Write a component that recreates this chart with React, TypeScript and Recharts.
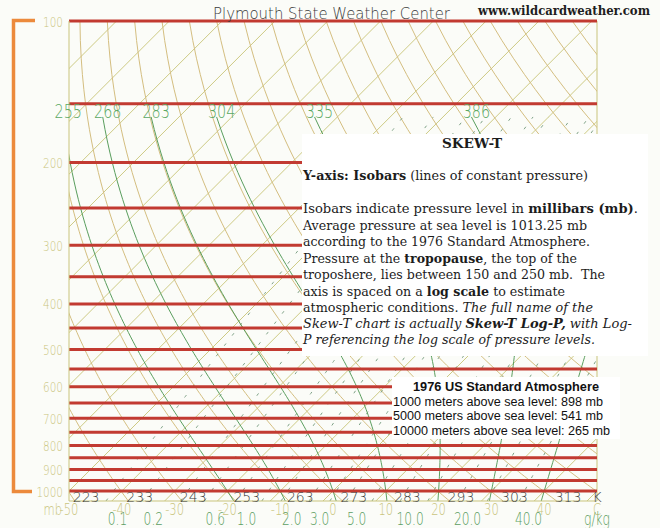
import React from 'react';
import { ComposedChart, Line, XAxis, YAxis, ReferenceLine, ReferenceDot } from 'recharts';

// pressure (mb)
const pressureTicks = [100, 200, 300, 400, 500, 600, 700, 800, 900, 1000];
const isobars = [100, 150, 200, 250, 300, 350, 400, 450, 500, 550, 600, 650, 700, 750, 800, 850, 900, 950, 1000];
// temperature axis at 1000 mb (C)
const tempTicks = [-50, -40, -30, -20, -10, 0, 10, 20, 30, 40, 50];
const tempLabels = ['-50', '-40', '-30', '-20', '-10', '0', '10', '20', '30', '40', 'C'];
const isotherms = [-130, -120, -110, -100, -90, -80, -70, -60, -50, -40, -30, -20, -10, 0, 10, 20, 30, 40, 50];
// dry adiabats (potential temperature, K)
const dryThetas = [223, 233, 243, 253, 263, 273, 283, 293, 303, 313, 323, 333, 343, 353, 363, 373, 383, 393, 403, 413, 423, 433, 443];
const thetaLabels = ['223', '233', '243', '253', '263', '273', '283', '293', '303', '313'];
// moist adiabats (wet-bulb potential temp at 1000 mb, C) and their theta-e labels
const moistThetaW = [-20, -10, 0, 10, 20, 30, 40];
const moistLabels = ['255', '268', '283', '304', '335', '386'];
// mixing ratio lines (g/kg)
const mixingRatios = [0.1, 0.2, 0.4, 0.6, 1, 1.5, 2, 3, 4, 5, 7, 10, 14, 20, 28, 40];
const mixingLabels = [0.1, 0.2, 0.6, 1, 2, 3, 5, 10, 20, 40];

const P_BOTTOM = 1050;
const P_TOP = 100;
const SKEW = 89; // C per decade of pressure (45 deg)

const KHAKI = '#c9c47c';
const ISO = '#cdca84';
const DRY = '#d4be80';
const MOIST = '#5a9e5e';
const MIX = '#7fa287';
const RED = '#c23a31';
const ORANGE = '#ec8a3c';

const skewX = (t: number, p: number) => t + SKEW * Math.log10(1000 / p);

const sampleLevels: number[] = [];
for (let p = P_BOTTOM; p >= P_TOP; p -= 10) sampleLevels.push(p);

const es = (tc: number) => 6.112 * Math.exp((17.67 * tc) / (tc + 243.5));
const rsat = (tc: number, p: number) => (0.622 * es(tc)) / (p - es(tc));
const lapse = (tc: number, p: number) => {
  const T = tc + 273.15;
  const r = rsat(tc, p);
  const L = 2.501e6;
  return (287.04 * T + L * r) / (p * (1005.7 + (L * L * r * 0.622) / (287.04 * T * T)));
};
const rk4 = (t: number, p: number, h: number) => {
  const k1 = lapse(t, p);
  const k2 = lapse(t + (h / 2) * k1, p + h / 2);
  const k3 = lapse(t + (h / 2) * k2, p + h / 2);
  const k4 = lapse(t + h * k3, p + h);
  return t + (h / 6) * (k1 + 2 * k2 + 2 * k3 + k4);
};
const dewpoint = (w: number, p: number) => {
  const e = ((w / 1000) * p) / (0.622 + w / 1000);
  const l = Math.log(e / 6.112);
  return (243.5 * l) / (17.67 - l);
};

const isothermSeries = isotherms.map((t) => [
  { x: skewX(t, P_BOTTOM), p: P_BOTTOM },
  { x: skewX(t, P_TOP), p: P_TOP },
]);

const drySeries = dryThetas.map((th) =>
  sampleLevels.map((p) => ({ x: skewX(th * Math.pow(p / 1000, 0.2857) - 273.15, p), p }))
);

const MOIST_TOP = 160;
const moistSeries = moistThetaW.map((tw) => {
  let t = tw;
  let p = 1000;
  while (p < P_BOTTOM) { t = rk4(t, p, 2); p += 2; }
  const pts: { x: number; p: number }[] = [];
  while (p >= MOIST_TOP) {
    if (p % 10 === 0) pts.push({ x: skewX(t, p), p });
    t = rk4(t, p, -2);
    p -= 2;
  }
  return pts;
});

const mixSeries = mixingRatios.map((w) =>
  sampleLevels.filter((p) => p >= MOIST_TOP).map((p) => ({ x: skewX(dewpoint(w, p), p), p }))
);
const mixTicks = [...mixingLabels.map((w) => dewpoint(w, 1000)), 50];

const NText = ({ x, y, anchor = 'middle', size, fill, sx = 0.72, weight = 300, children }: any) => (
  <text
    transform={`translate(${x},${y}) scale(${sx},1)`}
    textAnchor={anchor}
    fontSize={size}
    fill={fill}
    fontFamily="DejaVu Sans, sans-serif"
    fontWeight={weight}
  >
    {children}
  </text>
);

const TempTick = (props: any) => {
  const { x, y, index } = props;
  return (
    <g>
      {index === tempTicks.length - 1 && (
        <text x={x} y={y + 1} textAnchor="middle" fontSize={14} fill="#3c3c3c" fontFamily="DejaVu Sans, sans-serif" fontWeight={200}>
          K
        </text>
      )}
      {index === 0 && (
        <NText x={x - 7} y={y + 14} anchor="end" size={16} fill={KHAKI}>mb</NText>
      )}
      <NText x={x} y={y + 14} size={16} fill={KHAKI}>{tempLabels[index]}</NText>
    </g>
  );
};

const MixTick = (props: any) => {
  const { x, y, index } = props;
  const last = index === mixTicks.length - 1;
  return (
    <NText x={last ? x : x + 4} y={y + 9.5} size={17} fill="#5c9e62">
      {last ? 'g/kg' : mixingLabels[index].toFixed(1)}
    </NText>
  );
};

const PressTick = (props: any) => {
  const { x, y, payload } = props;
  return <NText x={x - 6} y={y + 5.5} anchor="end" size={14.5} fill={KHAKI}>{payload.value}</NText>;
};

const textBox1 = { fontFamily: 'DejaVu Serif, serif', fontSize: 13, fill: '#1c1c1c' };
const textBox2 = { fontFamily: 'Liberation Sans, Arial, sans-serif', fontSize: 12.5, fill: '#111' };

export default function App() {
  return (
    <div style={{ position: 'absolute', left: 0, top: 0, width: 660, height: 528, background: '#fbfcf8' }}>
      <ComposedChart width={660} height={528} margin={{ top: 21, right: 63, bottom: 0, left: 0 }}>
        <XAxis
          xAxisId="c"
          type="number"
          dataKey="x"
          domain={[-50, 50]}
          allowDataOverflow
          ticks={tempTicks}
          interval={0}
          height={14}
          tickSize={0}
          tickMargin={0}
          tickLine={false}
          axisLine={{ stroke: KHAKI }}
          tick={TempTick}
        />
        <XAxis
          xAxisId="w"
          type="number"
          dataKey="x"
          domain={[-50, 50]}
          allowDataOverflow
          ticks={mixTicks}
          interval={0}
          height={13}
          tickSize={0}
          tickMargin={0}
          tickLine={false}
          axisLine={false}
          tick={MixTick}
        />
        <YAxis
          type="number"
          scale="log"
          domain={[P_TOP, P_BOTTOM]}
          reversed
          allowDataOverflow
          ticks={pressureTicks}
          interval={0}
          width={69}
          tickSize={0}
          tickMargin={0}
          tickLine={false}
          axisLine={{ stroke: KHAKI }}
          tick={PressTick}
        />
        <ReferenceLine xAxisId="c" x={50} stroke={KHAKI} strokeWidth={1} />
        {isothermSeries.map((d, i) => (
          <Line key={`t${i}`} xAxisId="c" data={d} dataKey="p" type="linear" stroke={ISO} strokeWidth={1} dot={false} activeDot={false} isAnimationActive={false} />
        ))}
        {drySeries.map((d, i) => (
          <Line key={`d${i}`} xAxisId="c" data={d} dataKey="p" type="linear" stroke={DRY} strokeWidth={1} dot={false} activeDot={false} isAnimationActive={false} />
        ))}
        {mixSeries.map((d, i) => (
          <Line key={`w${i}`} xAxisId="c" data={d} dataKey="p" type="linear" stroke={MIX} strokeWidth={1} strokeDasharray="3 10" dot={false} activeDot={false} isAnimationActive={false} />
        ))}
        {moistSeries.map((d, i) => (
          <Line key={`m${i}`} xAxisId="c" data={d} dataKey="p" type="linear" stroke={MOIST} strokeWidth={1} dot={false} activeDot={false} isAnimationActive={false} />
        ))}
        {isobars.map((p) => (
          <ReferenceLine key={`p${p}`} xAxisId="c" y={p} stroke={RED} strokeWidth={3} />
        ))}
        {thetaLabels.map((lab, i) => (
          <ReferenceDot
            key={`k${lab}`}
            xAxisId="c"
            x={drySeries[i][0].x}
            y={P_BOTTOM}
            r={0}
            ifOverflow="visible"
            shape={(s: any) => (
              <text x={s.cx - 2} y={s.cy + 1} fontSize={14} fill="#3c3c3c" fontFamily="DejaVu Sans, sans-serif" fontWeight={200}>
                {lab}
              </text>
            )}
          />
        ))}
        {moistLabels.map((lab, i) => {
          const top = moistSeries[i][moistSeries[i].length - 1];
          return (
            <ReferenceDot
              key={`e${lab}`}
              xAxisId="c"
              x={top.x}
              y={top.p}
              r={0}
              ifOverflow="visible"
              shape={(s: any) => <NText x={s.cx + 5} y={s.cy + 1} size={20} fill="#5aa862">{lab}</NText>}
            />
          );
        })}
      </ComposedChart>

      <svg width={660} height={528} style={{ position: 'absolute', left: 0, top: 0, pointerEvents: 'none' }}>
        <path d="M35 20.5 H13.5 V491.5 H32" fill="none" stroke={ORANGE} strokeWidth={3.5} />
        <text x={213} y={19} fontSize={16.5} textLength={237} lengthAdjust="spacingAndGlyphs" fill="#3a3a3a" fontFamily="DejaVu Sans, sans-serif" fontWeight={300}>
          Plymouth State Weather Center
        </text>
        <text x={478} y={15} fontSize={13} textLength={172} lengthAdjust="spacingAndGlyphs" fill="#1e1e1e" fontFamily="DejaVu Serif, serif" fontWeight="bold">
          www.wildcardweather.com
        </text>

        <rect x={302} y={134} width={346} height={222} fill="#ffffff" />
        <g {...textBox1}>
          <text x={442} y={148} fontWeight="bold" textLength={60} lengthAdjust="spacingAndGlyphs">SKEW-T</text>
          <text x={303} y={180} textLength={285} lengthAdjust="spacingAndGlyphs">
            <tspan fontWeight="bold">Y-axis: Isobars</tspan> (lines of constant pressure)
          </text>
          <text x={303} y={213} textLength={335} lengthAdjust="spacingAndGlyphs">
            Isobars indicate pressure level in <tspan fontWeight="bold">millibars (mb)</tspan>.
          </text>
          <text x={303} y={229.5} textLength={284} lengthAdjust="spacingAndGlyphs">Average pressure at sea level is 1013.25 mb</text>
          <text x={303} y={246} textLength={287} lengthAdjust="spacingAndGlyphs">according to the 1976 Standard Atmosphere.</text>
          <text x={303} y={262.5} textLength={274} lengthAdjust="spacingAndGlyphs">
            Pressure at the <tspan fontWeight="bold">tropopause</tspan>, the top of the
          </text>
          <text x={303} y={279} textLength={302} lengthAdjust="spacingAndGlyphs" xmlSpace="preserve">troposhere, lies between 150 and 250 mb.  The</text>
          <text x={303} y={295.5} textLength={262} lengthAdjust="spacingAndGlyphs">
            axis is spaced on a <tspan fontWeight="bold">log scale</tspan> to estimate
          </text>
          <text x={303} y={312} textLength={290} lengthAdjust="spacingAndGlyphs">
            atmospheric conditions. <tspan fontStyle="italic">The full name of the</tspan>
          </text>
          <text x={303} y={328} textLength={329} lengthAdjust="spacingAndGlyphs" fontStyle="italic">
            Skew-T chart is actually <tspan fontWeight="bold">Skew-T Log-P,</tspan> with Log-
          </text>
          <text x={303} y={344} textLength={292} lengthAdjust="spacingAndGlyphs" fontStyle="italic">
            P referencing the log scale of pressure levels.
          </text>
        </g>

        <rect x={392} y={377} width={228} height={62} fill="#ffffff" />
        <g {...textBox2}>
          <text x={413} y={391} fontWeight="bold" textLength={186} lengthAdjust="spacingAndGlyphs">1976 US Standard Atmosphere</text>
          <text x={393} y={405.5} textLength={210} lengthAdjust="spacingAndGlyphs">1000 meters above sea level: 898 mb</text>
          <text x={393} y={420} textLength={210} lengthAdjust="spacingAndGlyphs">5000 meters above sea level: 541 mb</text>
          <text x={393} y={434.5} textLength={217} lengthAdjust="spacingAndGlyphs">10000 meters above sea level: 265 mb</text>
        </g>
      </svg>
    </div>
  );
}
